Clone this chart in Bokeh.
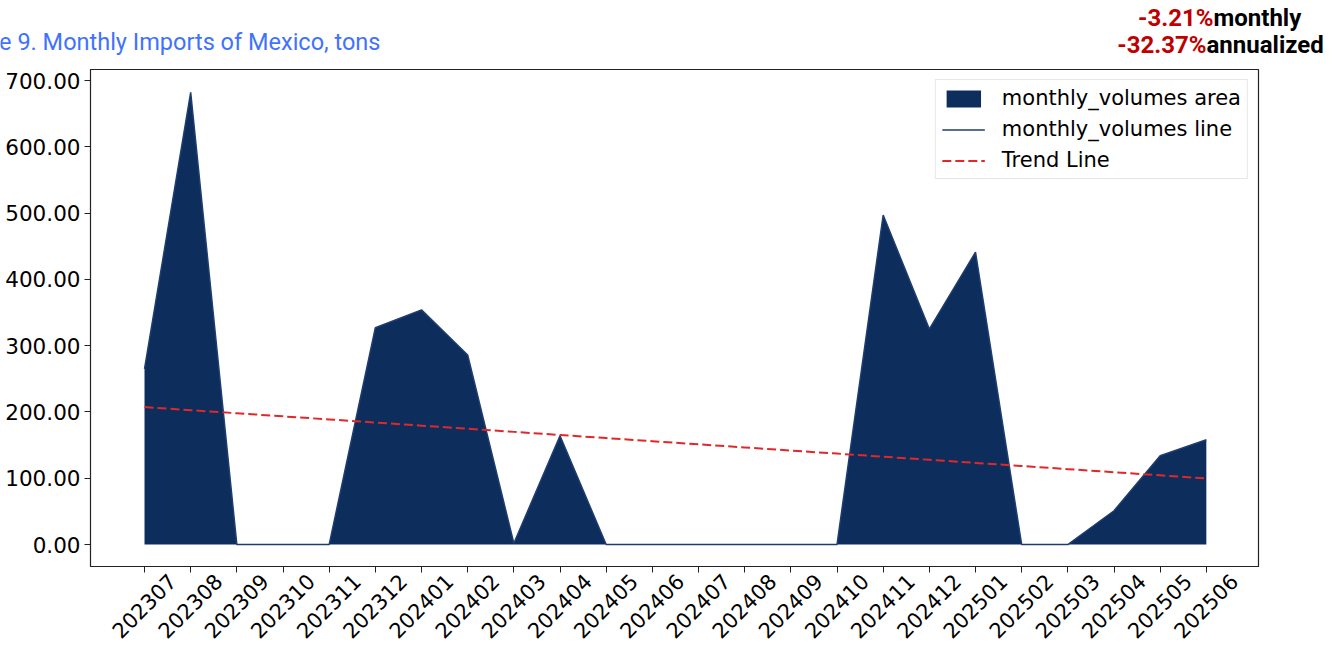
import math
import numpy as np
from bokeh.plotting import figure
from bokeh.models import (FixedTicker, NumeralTickFormatter, Range1d, Legend, LegendItem,
                          ColumnDataSource, LinearAxis, CustomJSTickFormatter)
from bokeh.embed import file_html
from bokeh.resources import INLINE
from bokeh.core.properties import value

months = ["202307", "202308", "202309", "202310", "202311", "202312",
          "202401", "202402", "202403", "202404", "202405", "202406",
          "202407", "202408", "202409", "202410", "202411", "202412",
          "202501", "202502", "202503", "202504", "202505", "202506"]
volumes = [265, 682, 0, 0, 0, 327,
           354, 286, 2, 164, 0, 0,
           0, 0, 0, 0, 497, 325,
           441, 0, 0, 51, 134, 158]
y_ticks = [0, 100, 200, 300, 400, 500, 600, 700]
title_text = "Figure 9. Monthly Imports of Mexico, tons"
monthly_pct = "-3.21%"
annual_pct = "-32.37%"

W = 1341
HEAD_H = 68

# ---------------- header (title + growth figures) ----------------
head = figure(width=W, height=HEAD_H, output_backend="svg", toolbar_location=None,
              x_range=Range1d(0, W), y_range=Range1d(0, HEAD_H),
              min_border=0, min_border_left=0, min_border_right=0,
              min_border_top=0, min_border_bottom=0)
head.axis.visible = False
head.grid.visible = False
head.outline_line_color = None
head.background_fill_color = "white"
head.border_fill_color = "white"

head.text(x=[-54], y=[27], text=[title_text], text_font=value("Roboto"),
          text_font_size="23.5px", text_color="#4172ff",
          text_align="left", text_baseline="alphabetic")

head.text(x=[1213, 1206], y=[50.5, 24], text=[monthly_pct, annual_pct],
          text_font=value("Roboto"), text_font_size="24px", text_font_style="bold",
          text_color="#c00000", text_align="right", text_baseline="alphabetic")
head.text(x=[1213, 1206], y=[50.5, 24], text=["monthly", "annualized"],
          text_font=value("Roboto"), text_font_size="24px", text_font_style="bold",
          text_color="black", text_align="left", text_baseline="alphabetic")

# ---------------- main chart ----------------
idx = list(range(len(months)))
slope, intercept = np.polyfit(idx, volumes, 1)
trend = [float(intercept + slope * i) for i in idx]

src = ColumnDataSource(dict(x=idx, y=volumes, trend=trend))

p = figure(width=W, height=648 - HEAD_H, output_backend="svg", toolbar_location=None,
           x_range=Range1d(-1.17, 24.13), y_range=Range1d(-33.1, 716.6),
           min_border_left=90, min_border_right=83, min_border_top=1, min_border_bottom=81)
p.background_fill_color = "white"
p.border_fill_color = "white"
p.outline_line_color = "#222222"
p.outline_line_width = 1.2
p.xgrid.visible = False
p.ygrid.visible = False

area = p.varea(x="x", y1=0, y2="y", source=src, fill_color="#0d2d5c")
line = p.line(x="x", y="y", source=src, line_color="#1f3d70", line_width=1.5)
tl = p.line(x="x", y="trend", source=src, line_color="#e0282b", line_width=2, line_dash="9 4")

tick_font = "DejaVu Sans"

# y axis
ya = p.yaxis[0]
ya.ticker = FixedTicker(ticks=y_ticks)
ya.formatter = NumeralTickFormatter(format="0.00")
ya.major_label_standoff = 4
ya.axis_line_color = "#222222"
ya.major_tick_line_color = "#222222"
ya.major_tick_in = 0
ya.major_tick_out = 6
ya.minor_tick_line_color = None
ya.major_label_text_font = tick_font
ya.major_label_text_font_size = "21.5px"
ya.major_label_text_color = "black"

# x axis: tick marks only
xa = p.xaxis[0]
xa.ticker = FixedTicker(ticks=idx)
xa.major_label_overrides = {i: "" for i in idx}
xa.major_label_text_font_size = "1px"
xa.major_label_standoff = 0
xa.axis_line_color = "#222222"
xa.major_tick_line_color = "#222222"
xa.major_tick_in = 0
xa.major_tick_out = 6
xa.minor_tick_line_color = None

# x axis labels (rotated, centred on the ticks like the reference)
shift = 0.6
xl = LinearAxis(ticker=FixedTicker(ticks=[i + shift for i in idx]),
                formatter=CustomJSTickFormatter(args=dict(labels=months, shift=shift),
                                                code="return labels[Math.round(tick - shift)];"))
xl.axis_line_color = None
xl.major_tick_line_color = None
xl.minor_tick_line_color = None
xl.major_tick_in = 0
xl.major_tick_out = 0
xl.major_label_standoff = 5
xl.major_label_orientation = math.pi / 4
xl.major_label_text_font = tick_font
xl.major_label_text_font_size = "21px"
xl.major_label_text_color = "black"
p.add_layout(xl, "below")

legend = Legend(items=[
    LegendItem(label="monthly_volumes area", renderers=[area]),
    LegendItem(label="monthly_volumes line", renderers=[line]),
    LegendItem(label="Trend Line", renderers=[tl]),
], location="top_right")
legend.label_text_font = tick_font
legend.label_text_font_size = "21px"
legend.label_text_color = "black"
legend.glyph_width = 43
legend.glyph_height = 21
legend.label_height = 21
legend.spacing = 7
legend.padding = 6
legend.margin = 10
legend.label_standoff = 17
legend.border_line_color = "#d0d0d0"
legend.border_line_width = 1
legend.background_fill_color = "white"
legend.background_fill_alpha = 0.9
p.add_layout(legend)

open("out.html", "w").write(file_html([head, p], INLINE))
